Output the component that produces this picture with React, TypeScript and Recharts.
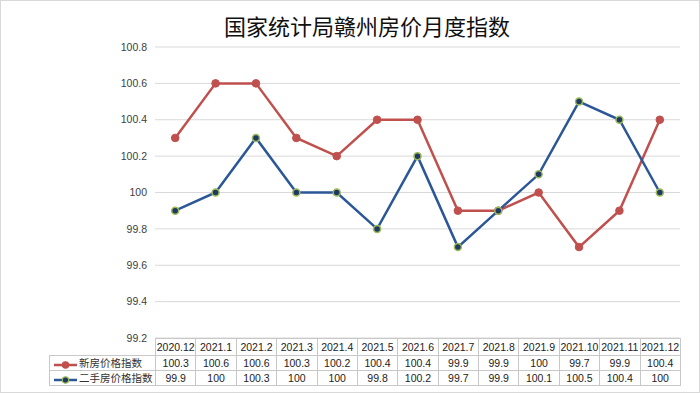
import { LineChart, Line, XAxis, YAxis, CartesianGrid } from "recharts";

const months = [
  "2020.12", "2021.1", "2021.2", "2021.3", "2021.4", "2021.5", "2021.6",
  "2021.7", "2021.8", "2021.9", "2021.10", "2021.11", "2021.12",
];
const newHouse = [100.3, 100.6, 100.6, 100.3, 100.2, 100.4, 100.4, 99.9, 99.9, 100, 99.7, 99.9, 100.4];
const usedHouse = [99.9, 100, 100.3, 100, 100, 99.8, 100.2, 99.7, 99.9, 100.1, 100.5, 100.4, 100];
const yTicks = [99.2, 99.4, 99.6, 99.8, 100, 100.2, 100.4, 100.6, 100.8];

const RED = "#c0504d";
const BLUE = "#2b5797";
const NAVY = "#1f3864";
const GREEN = "#9bbb59";

const data = months.map((m, i) => ({ month: m, newHouse: newHouse[i], usedHouse: usedHouse[i] }));

const cell = {
  border: "1px solid #c8c8c8",
  padding: 0,
  textAlign: "center" as const,
  overflow: "hidden",
  whiteSpace: "nowrap" as const,
};

function LegendKey({ color, fill, stroke }: { color: string; fill: string; stroke: string }) {
  return (
    <svg width={23} height={10} style={{ verticalAlign: "middle", marginRight: 2 }}>
      <line x1={0} y1={5} x2={23} y2={5} stroke={color} strokeWidth={2.5} />
      <circle cx={11.5} cy={5} r={3.2} fill={fill} stroke={stroke} strokeWidth={1.2} />
    </svg>
  );
}

export default function App() {
  const colW = 525 / months.length;
  const rows = [
    { name: "新房价格指数", values: newHouse, color: RED, fill: RED, stroke: RED },
    { name: "二手房价格指数", values: usedHouse, color: BLUE, fill: NAVY, stroke: GREEN },
  ];
  return (
    <div
      style={{
        position: "absolute",
        left: 0,
        top: 0,
        width: 700,
        height: 393,
        background: "#fff",
        boxSizing: "border-box",
        border: "1px solid #d9d9d9",
        fontFamily: "'Liberation Sans', sans-serif",
      }}
    >
      <div
        style={{
          position: "absolute",
          left: 0,
          width: 732,
          top: 8,
          textAlign: "center",
          fontSize: 22,
          fontFamily: "'Noto Sans CJK SC', sans-serif",
          fontWeight: 400,
          color: "#111",
        }}
      >
        国家统计局赣州房价月度指数
      </div>
      <div style={{ position: "absolute", left: -1, top: -1 }}>
        <LineChart width={700} height={393} data={data} margin={{ top: 47, right: 20, bottom: 55, left: 0 }}>
          <CartesianGrid vertical={false} stroke="#d9d9d9" strokeWidth={1} />
          <XAxis dataKey="month" hide padding={{ left: colW / 2, right: colW / 2 }} />
          <YAxis
            width={155}
            domain={[99.2, 100.8]}
            ticks={yTicks}
            axisLine={false}
            tickLine={false}
            tick={{ fontSize: 10.5, fill: "#404040" }}
            tickFormatter={(v: number) => String(Math.round(v * 10) / 10)}
          />
          <Line
            dataKey="newHouse"
            stroke={RED}
            strokeWidth={2.5}
            dot={{ r: 3.8, fill: RED, stroke: RED, strokeWidth: 1 }}
            isAnimationActive={false}
          />
          <Line
            dataKey="usedHouse"
            stroke={BLUE}
            strokeWidth={2.5}
            dot={{ r: 3.5, fill: NAVY, stroke: GREEN, strokeWidth: 1.5 }}
            isAnimationActive={false}
          />
        </LineChart>
      </div>
      <table
        style={{
          position: "absolute",
          left: 48,
          top: 337,
          borderCollapse: "collapse",
          tableLayout: "fixed",
          width: 106 + 525,
          fontSize: 10.5,
          color: "#222",
        }}
      >
        <colgroup>
          <col style={{ width: 106 }} />
          {months.map((m) => (
            <col key={m} style={{ width: colW }} />
          ))}
        </colgroup>
        <tbody>
          <tr style={{ height: 17 }}>
            <td style={{ padding: 0 }} />
            {months.map((m) => (
              <td key={m} style={cell}>
                {m}
              </td>
            ))}
          </tr>
          {rows.map((r) => (
            <tr key={r.name} style={{ height: 15 }}>
              <td
                style={{
                  ...cell,
                  textAlign: "left",
                  paddingLeft: 4,
                  fontSize: 10.5,
                  fontFamily: "'Noto Sans CJK SC', sans-serif",
                  lineHeight: "13px",
                  color: "#333",
                }}
              >
                <LegendKey color={r.color} fill={r.fill} stroke={r.stroke} />
                {r.name}
              </td>
              {r.values.map((v, i) => (
                <td key={i} style={cell}>
                  {v}
                </td>
              ))}
            </tr>
          ))}
        </tbody>
      </table>
    </div>
  );
}
